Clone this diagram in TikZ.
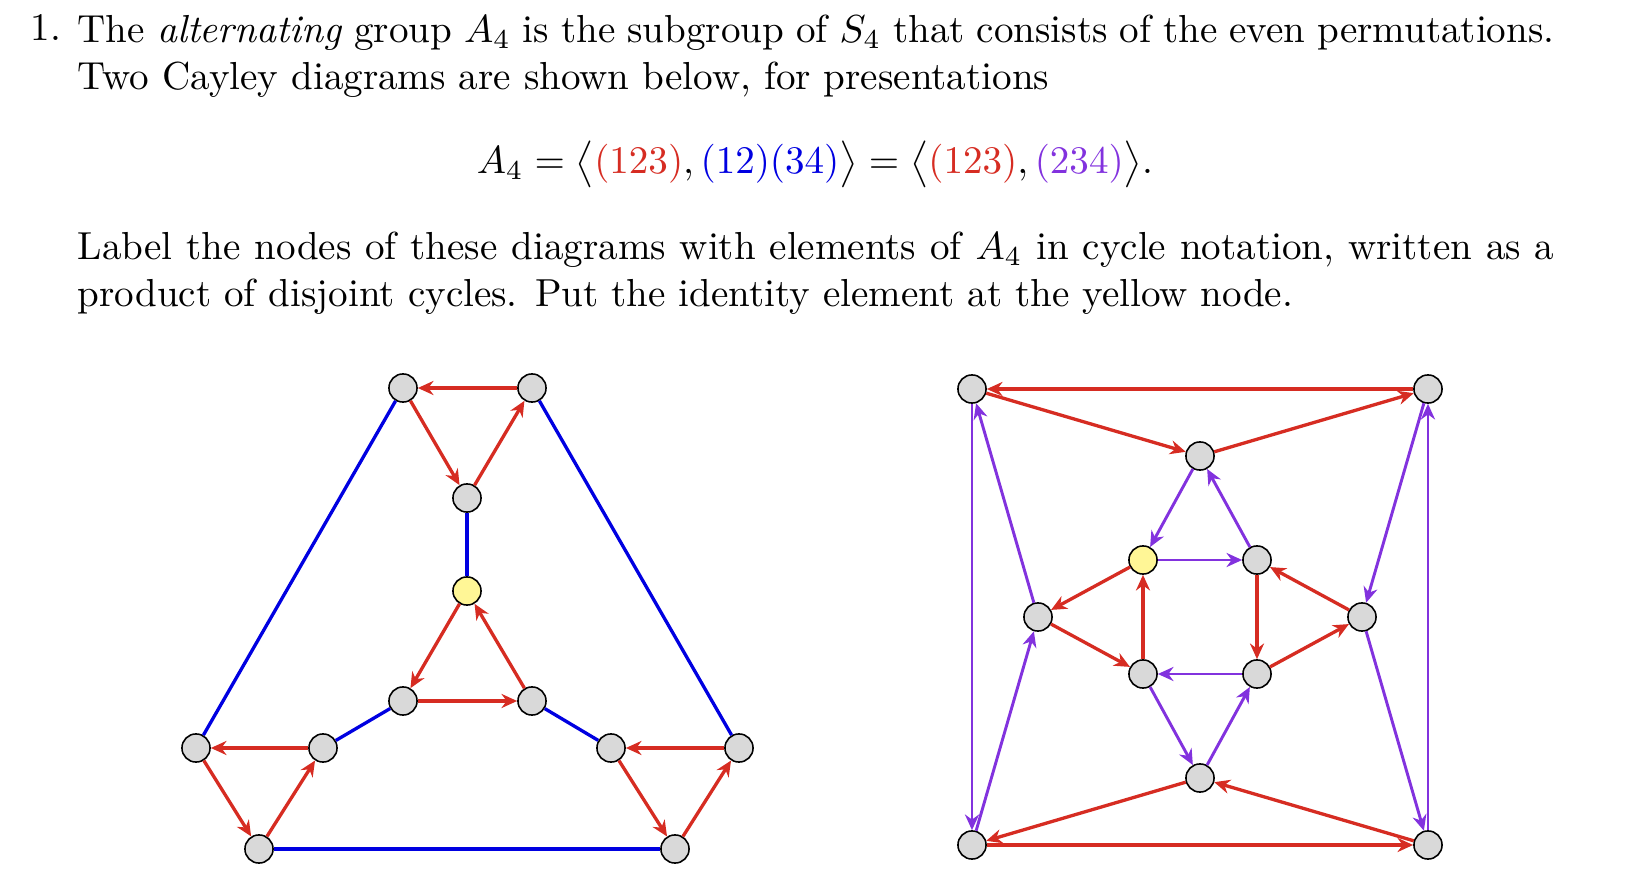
\documentclass[tikz,border=0pt]{standalone}
\usetikzlibrary{arrows.meta}
\definecolor{cr}{RGB}{214,44,34}
\definecolor{cb}{RGB}{0,0,225}
\definecolor{cp}{RGB}{130,50,222}
\definecolor{ng}{RGB}{217,217,217}
\definecolor{ny}{RGB}{255,246,150}
\begin{document}
\begin{tikzpicture}[x=0.256pt,y=-0.256pt,
  v/.style={circle,draw=black,fill=ng,line width=0.4pt,minimum size=7.2pt,inner sep=0pt},
  vy/.style={v,fill=ny},
  ra/.style={draw=cr,line width=0.85pt,-{Stealth[length=4pt,width=3.6pt]}},
  pa/.style={draw=cp,line width=0.75pt,-{Stealth[length=4pt,width=3.6pt]}},
  bl/.style={draw=cb,line width=0.85pt},
  txt/.style={inner sep=0pt,text width=378pt,align=justify}]
\useasboundingbox (0,0) rectangle (1652,887);
\node[inner sep=0pt,anchor=north west] (num) at (30,14) {1.};
\node[txt,anchor=north west] (p1) at (77,14) {The \emph{alternating} group $A_4$ is the subgroup of $S_4$ that consists of the even permutations. Two Cayley diagrams are shown below, for presentations};
\node[inner sep=0pt] (eq) at (815,164) {$A_4=\bigl\langle\textcolor{cr}{(123)},\textcolor{cb}{(12)(34)}\bigr\rangle=\bigl\langle\textcolor{cr}{(123)},\textcolor{cp}{(234)}\bigr\rangle.$};
\node[txt,anchor=north west] (p2) at (77,231) {Label the nodes of these diagrams with elements of $A_4$ in cycle notation, written as a product of disjoint cycles. Put the identity element at the yellow node.};
% left diagram
\node[v] (a1) at (403,388) {};
\node[v] (a2) at (532,388) {};
\node[v] (a3) at (467,498) {};
\node[vy] (e) at (467,591) {};
\node[v] (b1) at (403,701) {};
\node[v] (b2) at (532,701) {};
\node[v] (c1) at (323,748) {};
\node[v] (c2) at (196,748) {};
\node[v] (c3) at (259,849) {};
\node[v] (d1) at (611,748) {};
\node[v] (d2) at (739,748) {};
\node[v] (d3) at (675,849) {};
\draw[bl] (a1)--(c2); \draw[bl] (a2)--(d2); \draw[bl] (a3)--(e);
\draw[bl] (b1)--(c1); \draw[bl] (b2)--(d1); \draw[bl] (c3)--(d3);
\draw[ra] (a2)--(a1); \draw[ra] (a1)--(a3); \draw[ra] (a3)--(a2);
\draw[ra] (e)--(b1); \draw[ra] (b1)--(b2); \draw[ra] (b2)--(e);
\draw[ra] (c1)--(c2); \draw[ra] (c2)--(c3); \draw[ra] (c3)--(c1);
\draw[ra] (d2)--(d1); \draw[ra] (d1)--(d3); \draw[ra] (d3)--(d2);
% right diagram
\node[v] (TL) at (972,389) {};
\node[v] (TR) at (1428,389) {};
\node[v] (BL) at (972,845) {};
\node[v] (BR) at (1428,845) {};
\node[v] (Tm) at (1200,456) {};
\node[v] (Bm) at (1200,778) {};
\node[vy] (Y) at (1143,560) {};
\node[v] (RI) at (1257,560) {};
\node[v] (BIL) at (1143,674) {};
\node[v] (BIR) at (1257,674) {};
\node[v] (L) at (1038,617) {};
\node[v] (R) at (1362,617) {};
\draw[ra] (TR)--(TL); \draw[ra] (TL)--(Tm); \draw[ra] (Tm)--(TR);
\draw[ra] (Y)--(L); \draw[ra] (L)--(BIL); \draw[ra] (BIL)--(Y);
\draw[ra] (RI)--(BIR); \draw[ra] (BIR)--(R); \draw[ra] (R)--(RI);
\draw[ra] (BL)--(BR); \draw[ra] (BR)--(Bm); \draw[ra] (Bm)--(BL);
\draw[pa] (Tm)--(Y); \draw[pa] (Y)--(RI); \draw[pa] (RI)--(Tm);
\draw[pa] (BIR)--(BIL); \draw[pa] (BIL)--(Bm); \draw[pa] (Bm)--(BIR);
\draw[pa] (L)--(TL); \draw[pa] (TL)--(BL); \draw[pa] (BL)--(L);
\draw[pa] (TR)--(R); \draw[pa] (R)--(BR); \draw[pa] (BR)--(TR);
\end{tikzpicture}
\end{document}
